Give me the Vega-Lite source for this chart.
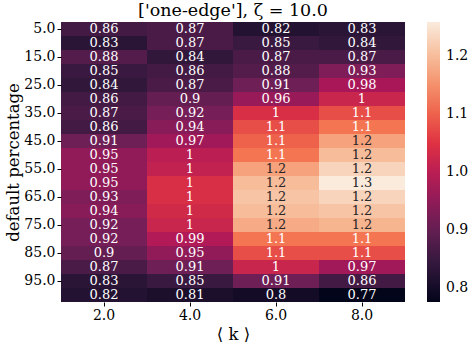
{
  "$schema": "https://vega.github.io/schema/vega-lite/v6.json",
  "autosize": {"type": "none"},
  "padding": {"left": 61, "top": 22, "right": 69, "bottom": 43},
  "width": 344,
  "height": 280,
  "background": "white",
  "title": {"text": "['one-edge'], ζ = 10.0", "font": "DejaVu Serif", "fontSize": 17.5, "fontWeight": "normal", "offset": 2, "color": "#000"},
  "config": {"view": {"stroke": null}},
  "data": {"values": [
    {"p": 5, "k": 2, "v": 0.86}, {"p": 5, "k": 4, "v": 0.87}, {"p": 5, "k": 6, "v": 0.82}, {"p": 5, "k": 8, "v": 0.83},
    {"p": 10, "k": 2, "v": 0.83}, {"p": 10, "k": 4, "v": 0.87}, {"p": 10, "k": 6, "v": 0.85}, {"p": 10, "k": 8, "v": 0.84},
    {"p": 15, "k": 2, "v": 0.88}, {"p": 15, "k": 4, "v": 0.84}, {"p": 15, "k": 6, "v": 0.87}, {"p": 15, "k": 8, "v": 0.87},
    {"p": 20, "k": 2, "v": 0.85}, {"p": 20, "k": 4, "v": 0.86}, {"p": 20, "k": 6, "v": 0.88}, {"p": 20, "k": 8, "v": 0.93},
    {"p": 25, "k": 2, "v": 0.84}, {"p": 25, "k": 4, "v": 0.87}, {"p": 25, "k": 6, "v": 0.91}, {"p": 25, "k": 8, "v": 0.98},
    {"p": 30, "k": 2, "v": 0.86}, {"p": 30, "k": 4, "v": 0.90}, {"p": 30, "k": 6, "v": 0.96}, {"p": 30, "k": 8, "v": 1.02},
    {"p": 35, "k": 2, "v": 0.87}, {"p": 35, "k": 4, "v": 0.92}, {"p": 35, "k": 6, "v": 1.04}, {"p": 35, "k": 8, "v": 1.08},
    {"p": 40, "k": 2, "v": 0.86}, {"p": 40, "k": 4, "v": 0.94}, {"p": 40, "k": 6, "v": 1.08}, {"p": 40, "k": 8, "v": 1.12},
    {"p": 45, "k": 2, "v": 0.91}, {"p": 45, "k": 4, "v": 0.97}, {"p": 45, "k": 6, "v": 1.10}, {"p": 45, "k": 8, "v": 1.17},
    {"p": 50, "k": 2, "v": 0.95}, {"p": 50, "k": 4, "v": 1.00}, {"p": 50, "k": 6, "v": 1.12}, {"p": 50, "k": 8, "v": 1.20},
    {"p": 55, "k": 2, "v": 0.95}, {"p": 55, "k": 4, "v": 1.01}, {"p": 55, "k": 6, "v": 1.17}, {"p": 55, "k": 8, "v": 1.23},
    {"p": 60, "k": 2, "v": 0.95}, {"p": 60, "k": 4, "v": 1.04}, {"p": 60, "k": 6, "v": 1.20}, {"p": 60, "k": 8, "v": 1.26},
    {"p": 65, "k": 2, "v": 0.93}, {"p": 65, "k": 4, "v": 1.04}, {"p": 65, "k": 6, "v": 1.21}, {"p": 65, "k": 8, "v": 1.23},
    {"p": 70, "k": 2, "v": 0.94}, {"p": 70, "k": 4, "v": 1.03}, {"p": 70, "k": 6, "v": 1.20}, {"p": 70, "k": 8, "v": 1.21},
    {"p": 75, "k": 2, "v": 0.92}, {"p": 75, "k": 4, "v": 1.02}, {"p": 75, "k": 6, "v": 1.18}, {"p": 75, "k": 8, "v": 1.19},
    {"p": 80, "k": 2, "v": 0.92}, {"p": 80, "k": 4, "v": 0.99}, {"p": 80, "k": 6, "v": 1.12}, {"p": 80, "k": 8, "v": 1.12},
    {"p": 85, "k": 2, "v": 0.90}, {"p": 85, "k": 4, "v": 0.95}, {"p": 85, "k": 6, "v": 1.08}, {"p": 85, "k": 8, "v": 1.08},
    {"p": 90, "k": 2, "v": 0.87}, {"p": 90, "k": 4, "v": 0.91}, {"p": 90, "k": 6, "v": 1.02}, {"p": 90, "k": 8, "v": 0.97},
    {"p": 95, "k": 2, "v": 0.83}, {"p": 95, "k": 4, "v": 0.85}, {"p": 95, "k": 6, "v": 0.91}, {"p": 95, "k": 8, "v": 0.86},
    {"p": 100, "k": 2, "v": 0.82}, {"p": 100, "k": 4, "v": 0.81}, {"p": 100, "k": 6, "v": 0.80}, {"p": 100, "k": 8, "v": 0.774}
  ]},
  "encoding": {
    "x": {"field": "k", "type": "ordinal", "scale": {"paddingInner": 0, "paddingOuter": 0},
      "axis": {"title": "⟨ k ⟩", "labelAngle": 0, "labelExpr": "format(datum.value, '.1f')", "domain": false, "ticks": true, "tickSize": 4, "tickColor": "#000",
        "labelFont": "DejaVu Serif", "labelFontSize": 14, "labelColor": "#000", "titleFont": "DejaVu Serif", "titleFontSize": 16.5, "titleFontWeight": "normal", "titleColor": "#000", "labelPadding": 2, "titlePadding": 4}},
    "y": {"field": "p", "type": "ordinal", "scale": {"paddingInner": 0, "paddingOuter": 0},
      "axis": {"title": "default percentage", "values": [5, 15, 25, 35, 45, 55, 65, 75, 85, 95], "labelExpr": "format(datum.value, '.1f')", "domain": false, "ticks": true, "tickSize": 4, "tickColor": "#000",
        "labelFont": "DejaVu Serif", "labelFontSize": 14, "labelColor": "#000", "titleFont": "DejaVu Serif", "titleFontSize": 16.5, "titleFontWeight": "normal", "titleColor": "#000", "labelPadding": 2, "titlePadding": 2}}
  },
  "layer": [
    {
      "mark": {"type": "rect"},
      "encoding": {
        "color": {"field": "v", "type": "quantitative",
          "scale": {"domain": [0.776, 0.845, 0.914, 0.983, 1.052, 1.121, 1.190, 1.259],
            "range": ["#03051a", "#35193e", "#701f57", "#ad1759", "#e13342", "#f37651", "#f6b48f", "#faebdd"], "interpolate": "rgb", "clamp": true},
          "legend": {"title": null, "orient": "none", "legendX": 366, "legendY": 0, "direction": "vertical", "gradientLength": 280, "gradientThickness": 13,
            "values": [0.8, 0.9, 1.0, 1.1, 1.2], "format": ".1f", "labelFont": "DejaVu Serif", "labelFontSize": 14, "labelColor": "#000", "labelOffset": 6, "gradientStrokeWidth": 0}}
      }
    },
    {
      "mark": {"type": "text", "font": "DejaVu Serif", "fontSize": 13, "baseline": "middle"},
      "encoding": {
        "text": {"field": "v", "type": "quantitative", "format": ".2~g"},
        "color": {"condition": {"test": "datum.v > 1.145", "value": "#262626"}, "value": "#ffffff"}
      }
    }
  ]
}
